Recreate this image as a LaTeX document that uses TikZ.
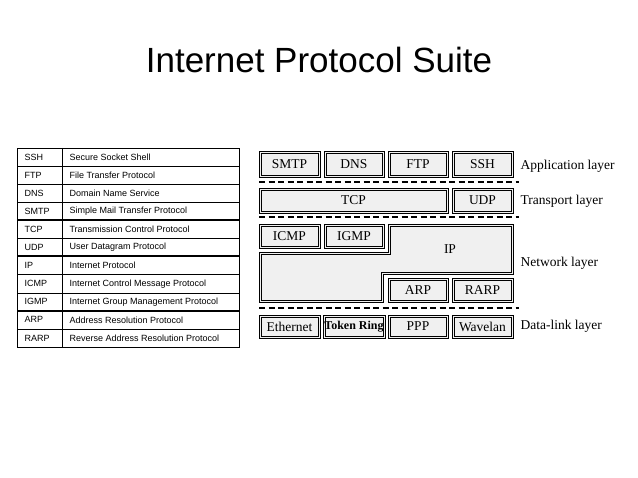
\documentclass[tikz,border=0pt]{standalone}
\usepackage{fontspec}
\setmainfont{Liberation Serif}
\newfontfamily\sansf{Liberation Sans}
\begin{document}
\begin{tikzpicture}[x=1pt,y=-1pt,
  pt/.style={font=\fontsize{13.5}{15}\selectfont},
  lay/.style={anchor=west,font=\fontsize{13.5}{15}\selectfont},
  tt/.style={anchor=west,font=\sansf\fontsize{9}{10}\selectfont},
  dl/.style={dash pattern=on 6pt off 3.5pt,line width=1.6pt}]
\useasboundingbox[fill=white] (0,0) rectangle (638,478);
\node[font=\sansf\fontsize{35}{40}\selectfont] (title) at (319,60) {Internet Protocol Suite};
% table
\draw[line width=0.6pt] (17,148) rectangle (239,347);
\foreach \y in {166,184,202,238,274,293,329} \draw[line width=0.5pt] (17,\y) -- (239,\y);
\foreach \y in {220,256,311} \draw[line width=1.3pt] (17,\y) -- (239,\y);
\draw[line width=0.5pt] (62,148) -- (62,347);
\foreach \a/\b [count=\i from 0] in {SSH/Secure Socket Shell,FTP/File Transfer Protocol,DNS/Domain Name Service,SMTP/Simple Mail Transfer Protocol,TCP/Transmission Control Protocol,UDP/User Datagram Protocol,IP/Internet Protocol,ICMP/Internet Control Message Protocol,IGMP/Internet Group Management Protocol,ARP/Address Resolution Protocol,RARP/Reverse Address Resolution Protocol}{
  \node[tt] (ta\i) at (21,157+18.1*\i) {\a};
  \node[tt] (tb\i) at (66,157+18.1*\i) {\b};
}
% boxes
\newcommand\protbox[6]{\draw[fill=gray!12,line width=0.9pt] (#2,#3) rectangle (#4,#5);
  \draw[line width=0.7pt] ({#2+2},{#3+2}) rectangle ({#4-2},{#5-2});
  \node[pt] (#1) at ({(#2+#4)/2},{(#3+#5)/2}) {#6};}
\protbox{smtp}{259}{151}{320}{177}{SMTP}
\protbox{dns}{324}{151}{384}{177}{DNS}
\protbox{ftp}{388}{151}{448}{177}{FTP}
\protbox{ssh}{452}{151}{513}{177}{SSH}
\protbox{tcp}{259}{188}{448}{213}{TCP}
\protbox{udp}{452}{188}{513}{213}{UDP}
\protbox{icmp}{259}{224}{320}{248}{ICMP}
\protbox{igmp}{324}{224}{384}{248}{IGMP}
\draw[fill=gray!12,line width=0.9pt] (259,252) -- (388,252) -- (388,224) -- (513,224) -- (513,274) -- (383,274) -- (383,302) -- (259,302) -- cycle;
\draw[line width=0.7pt] (261,254) -- (390,254) -- (390,226) -- (511,226) -- (511,272) -- (381,272) -- (381,300) -- (261,300) -- cycle;
\node[pt] (ip) at (450,249) {IP};
\protbox{arp}{388}{278}{448}{302}{ARP}
\protbox{rarp}{452}{278}{513}{302}{RARP}
\protbox{eth}{259}{315}{320}{338}{Ethernet}
\protbox{tr}{323}{315}{385}{338}{\bfseries\fontsize{12}{13}\selectfont Token Ring}
\protbox{ppp}{388}{315}{448}{338}{PPP}
\protbox{wav}{452}{315}{513}{338}{Wavelan}
\draw[dl] (259,182) -- (519,182);
\draw[dl] (259,217) -- (519,217);
\draw[dl] (259,308) -- (519,308);
\node[lay] (l1) at (517,166) {Application layer};
\node[lay] (l2) at (517,201) {Transport layer};
\node[lay] (l3) at (517,263) {Network layer};
\node[lay] (l4) at (517,326) {Data-link layer};
\end{tikzpicture}
\end{document}
